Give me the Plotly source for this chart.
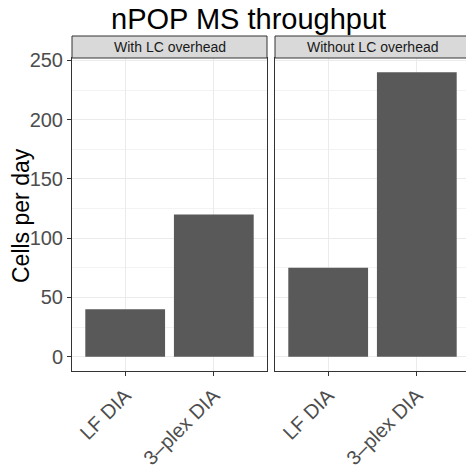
import plotly.graph_objects as go

# data
panels = ["With LC overhead", "Without LC overhead"]
methods = ["LF DIA", "3\u2013plex DIA"]
with_lc = [40, 120]
without_lc = [75, 240]

bar_col = "#595959"
grid_col = "#ebebeb"
border_col = "#333333"

# page body has an 8px margin, so lay out in window pixels and shift
OFF = 8
W, H = 474 - OFF, 470 - OFF


def fx(p):
    return (p - OFF) / W


def fy(p):
    return 1 - (p - OFF) / H


fig = go.Figure()
fig.add_trace(go.Bar(x=methods, y=with_lc, marker=dict(color=bar_col, line_width=0),
                     width=0.9, xaxis="x", yaxis="y", showlegend=False))
fig.add_trace(go.Bar(x=methods, y=without_lc, marker=dict(color=bar_col, line_width=0),
                     width=0.9, xaxis="x2", yaxis="y2", showlegend=False))

panel_px = [(72, 267), (275, 470)]
y_dom = [fy(371), fy(58)]

xcommon = dict(type="category", showline=True, mirror=True, linecolor=border_col, linewidth=1,
               ticks="outside", ticklen=4, tickcolor=border_col, tickangle=-45,
               tickfont=dict(size=20, color="#4d4d4d"), gridcolor=grid_col, showgrid=True,
               range=[-0.6, 1.6], zeroline=False, automargin=False)
ycommon = dict(range=[-12, 252], showline=True, mirror=True, linecolor=border_col, linewidth=1,
               gridcolor=grid_col, tickvals=[0, 50, 100, 150, 200, 250], zeroline=False,
               minor=dict(tickvals=[25, 75, 125, 175, 225], showgrid=True, gridcolor="#f3f3f3"),
               domain=y_dom, automargin=False)

fig.update_layout(
    width=W, height=H,
    margin=dict(l=0, r=0, t=0, b=0),
    plot_bgcolor="white", paper_bgcolor="white",
    font=dict(family="Liberation Sans, Arial, sans-serif"),
    xaxis=dict(xcommon, domain=[fx(panel_px[0][0]), fx(panel_px[0][1])], anchor="y"),
    xaxis2=dict(xcommon, domain=[fx(panel_px[1][0]), fx(panel_px[1][1])], anchor="y2"),
    yaxis=dict(ycommon, anchor="x", ticks="outside", ticklen=4, tickcolor=border_col,
               tickfont=dict(size=20, color="#4d4d4d")),
    yaxis2=dict(ycommon, anchor="x2", showticklabels=False),
)

# title and y label
fig.add_annotation(text="nPOP MS throughput", xref="paper", yref="paper",
                   x=fx(248), y=fy(19), xanchor="center", yanchor="middle", showarrow=False,
                   font=dict(size=29, color="black"))
fig.add_annotation(text="Cells per day", xref="paper", yref="paper", textangle=-90,
                   x=fx(21), y=fy(216), xanchor="center", yanchor="middle", showarrow=False,
                   font=dict(size=23, color="black"))

# facet strips
for i, (x0, x1) in enumerate(panel_px):
    fig.add_shape(type="rect", xref="paper", yref="paper",
                  x0=fx(x0), x1=fx(x1), y0=fy(58), y1=fy(36),
                  fillcolor="#d9d9d9", line=dict(color=border_col, width=1))
    fig.add_annotation(text=panels[i], xref="paper", yref="paper",
                       x=fx((x0 + x1) / 2), y=fy(47), xanchor="center", yanchor="middle",
                       showarrow=False, font=dict(size=14, color="#1a1a1a"))

fig.write_html("out.html")
